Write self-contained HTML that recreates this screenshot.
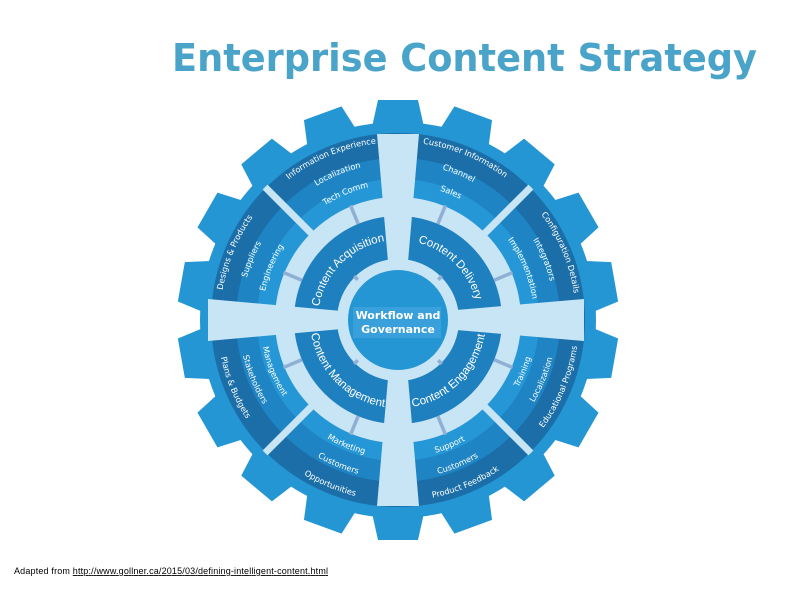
<!DOCTYPE html>
<html><head><meta charset="utf-8"><style>
html,body{margin:0;padding:0;background:#fff;}
svg{display:block;}
.o{font-family:"DejaVu Sans","Liberation Sans",sans-serif;font-size:8.2px;fill:#fff;}
.c{font-family:"Liberation Sans","DejaVu Sans",sans-serif;font-size:11.5px;fill:#fff;}
</style></head><body>
<svg width="800" height="600" viewBox="0 0 800 600" xmlns="http://www.w3.org/2000/svg">
<defs>
<path id="w136" d="M262 320 A136 136 0 0 1 534 320"/>
<path id="w157" d="M241 320 A157 157 0 0 1 555 320"/>
<path id="w178" d="M220 320 A178 178 0 0 1 576 320"/>
<path id="w79" d="M318 320 A80 80 0 0 1 478 320"/>
<path id="b138" d="M260 320 A138 138 0 0 0 536 320"/>
<path id="b159" d="M239 320 A159 159 0 0 0 557 320"/>
<path id="b181" d="M217 320 A181 181 0 0 0 579 320"/>
<path id="b88" d="M310 320 A88 88 0 0 0 486 320"/>
</defs>

<text x="172" y="71" textLength="585" lengthAdjust="spacingAndGlyphs" font-family="DejaVu Sans, Liberation Sans, sans-serif" font-weight="bold" font-size="38" fill="#4aa3c8">Enterprise Content Strategy</text>

<g fill="#2596d4">
<polygon id="t" points="372,127 424,127 418,100 378,100"/>
<use href="#t" transform="rotate(20 398 320)"/><use href="#t" transform="rotate(40 398 320)"/>
<use href="#t" transform="rotate(60 398 320)"/><use href="#t" transform="rotate(80 398 320)"/>
<use href="#t" transform="rotate(100 398 320)"/><use href="#t" transform="rotate(120 398 320)"/>
<use href="#t" transform="rotate(140 398 320)"/><use href="#t" transform="rotate(160 398 320)"/>
<use href="#t" transform="rotate(180 398 320)"/><use href="#t" transform="rotate(200 398 320)"/>
<use href="#t" transform="rotate(220 398 320)"/><use href="#t" transform="rotate(240 398 320)"/>
<use href="#t" transform="rotate(260 398 320)"/><use href="#t" transform="rotate(280 398 320)"/>
<use href="#t" transform="rotate(300 398 320)"/><use href="#t" transform="rotate(320 398 320)"/>
<use href="#t" transform="rotate(340 398 320)"/>
<circle cx="398" cy="320" r="198"/>
</g>
<circle cx="398" cy="320" r="187" fill="#1b6ea7"/>
<circle cx="398" cy="320" r="162" fill="#1f84c3"/>
<circle cx="398" cy="320" r="141" fill="#2697d6"/>
<circle cx="398" cy="320" r="123" fill="#c8e5f6"/>
<circle cx="398" cy="320" r="104" fill="#1f80c0"/>
<circle cx="398" cy="320" r="61" fill="#c8e5f6"/>

<g stroke="#c8e5f6" stroke-width="7">
<line x1="398" y1="198" x2="398" y2="132" transform="rotate(45 398 320)"/>
<line x1="398" y1="198" x2="398" y2="132" transform="rotate(135 398 320)"/>
<line x1="398" y1="198" x2="398" y2="132" transform="rotate(225 398 320)"/>
<line x1="398" y1="198" x2="398" y2="132" transform="rotate(315 398 320)"/>
</g>
<g stroke="#8fb0d3" stroke-width="3.5">
<line x1="398" y1="216" x2="398" y2="196" transform="rotate(22.5 398 320)"/>
<line x1="398" y1="216" x2="398" y2="196" transform="rotate(67.5 398 320)"/>
<line x1="398" y1="216" x2="398" y2="196" transform="rotate(112.5 398 320)"/>
<line x1="398" y1="216" x2="398" y2="196" transform="rotate(157.5 398 320)"/>
<line x1="398" y1="216" x2="398" y2="196" transform="rotate(202.5 398 320)"/>
<line x1="398" y1="216" x2="398" y2="196" transform="rotate(247.5 398 320)"/>
<line x1="398" y1="216" x2="398" y2="196" transform="rotate(292.5 398 320)"/>
<line x1="398" y1="216" x2="398" y2="196" transform="rotate(337.5 398 320)"/>
<line x1="398" y1="270" x2="398" y2="258" transform="rotate(45 398 320)"/>
<line x1="398" y1="270" x2="398" y2="258" transform="rotate(135 398 320)"/>
<line x1="398" y1="270" x2="398" y2="258" transform="rotate(225 398 320)"/>
<line x1="398" y1="270" x2="398" y2="258" transform="rotate(315 398 320)"/>
</g>
<g fill="#c8e5f6">
<polygon id="wd" points="393,320 403,320 419,134 377,134"/>
<use href="#wd" transform="rotate(90 398 320)"/>
<use href="#wd" transform="rotate(180 398 320)"/>
<polygon points="398,324 398,316 208,299 208,341"/>
</g>
<circle cx="398" cy="320" r="57" fill="#c8e5f6"/>
<circle cx="398" cy="320" r="50" fill="#2596d4"/>
<rect x="353" y="307" width="88" height="31" fill="#3aa0dc"/>
<text x="398" y="319" text-anchor="middle" font-family="DejaVu Sans, Liberation Sans, sans-serif" font-weight="bold" font-size="11" fill="#fff">Workflow and</text>
<text x="398" y="333" text-anchor="middle" font-family="DejaVu Sans, Liberation Sans, sans-serif" font-weight="bold" font-size="11" fill="#fff">Governance</text>

<g transform="rotate(-45 398 320)"><text class="c"><textPath href="#w79" startOffset="50%" text-anchor="middle">Content Acquisition</textPath></text></g>
<g transform="rotate(45 398 320)"><text class="c"><textPath href="#w79" startOffset="50%" text-anchor="middle">Content Delivery</textPath></text></g>
<g transform="rotate(-45 398 320)"><text class="c"><textPath href="#b88" startOffset="50%" text-anchor="middle">Content Engagement</textPath></text></g>
<g transform="rotate(45 398 320)"><text class="c"><textPath href="#b88" startOffset="50%" text-anchor="middle">Content Management</textPath></text></g>

<g transform="rotate(-22.5 398 320)" class="o">
<text><textPath href="#w178" startOffset="50%" text-anchor="middle">Information Experience</textPath></text>
<text><textPath href="#w157" startOffset="50%" text-anchor="middle">Localization</textPath></text>
<text><textPath href="#w136" startOffset="50%" text-anchor="middle">Tech Comm</textPath></text>
</g>
<g transform="rotate(-67.5 398 320)" class="o">
<text><textPath href="#w178" startOffset="50%" text-anchor="middle">Designs &amp; Products</textPath></text>
<text><textPath href="#w157" startOffset="50%" text-anchor="middle">Suppliers</textPath></text>
<text><textPath href="#w136" startOffset="50%" text-anchor="middle">Engineering</textPath></text>
</g>
<g transform="rotate(22.5 398 320)" class="o">
<text><textPath href="#w178" startOffset="50%" text-anchor="middle">Customer Information</textPath></text>
<text><textPath href="#w157" startOffset="50%" text-anchor="middle">Channel</textPath></text>
<text><textPath href="#w136" startOffset="50%" text-anchor="middle">Sales</textPath></text>
</g>
<g transform="rotate(67.5 398 320)" class="o">
<text><textPath href="#w178" startOffset="50%" text-anchor="middle">Configuration Details</textPath></text>
<text><textPath href="#w157" startOffset="50%" text-anchor="middle">Integrators</textPath></text>
<text><textPath href="#w136" startOffset="50%" text-anchor="middle">Implementation</textPath></text>
</g>
<g transform="rotate(-67.5 398 320)" class="o">
<text><textPath href="#b181" startOffset="50%" text-anchor="middle">Educational Programs</textPath></text>
<text><textPath href="#b159" startOffset="50%" text-anchor="middle">Localization</textPath></text>
<text><textPath href="#b138" startOffset="50%" text-anchor="middle">Training</textPath></text>
</g>
<g transform="rotate(-22.5 398 320)" class="o">
<text><textPath href="#b181" startOffset="50%" text-anchor="middle">Product Feedback</textPath></text>
<text><textPath href="#b159" startOffset="50%" text-anchor="middle">Customers</textPath></text>
<text><textPath href="#b138" startOffset="50%" text-anchor="middle">Support</textPath></text>
</g>
<g transform="rotate(22.5 398 320)" class="o">
<text><textPath href="#b181" startOffset="50%" text-anchor="middle">Opportunities</textPath></text>
<text><textPath href="#b159" startOffset="50%" text-anchor="middle">Customers</textPath></text>
<text><textPath href="#b138" startOffset="50%" text-anchor="middle">Marketing</textPath></text>
</g>
<g transform="rotate(67.5 398 320)" class="o">
<text><textPath href="#b181" startOffset="50%" text-anchor="middle">Plans &amp; Budgets</textPath></text>
<text><textPath href="#b159" startOffset="50%" text-anchor="middle">Stakeholders</textPath></text>
<text><textPath href="#b138" startOffset="50%" text-anchor="middle">Management</textPath></text>
</g>

<text x="14" y="574" textLength="314" font-family="Liberation Sans, sans-serif" font-size="9" fill="#000">Adapted from <tspan text-decoration="underline">http://www.gollner.ca/2015/03/defining-intelligent-content.html</tspan></text>
</svg>
</body></html>
